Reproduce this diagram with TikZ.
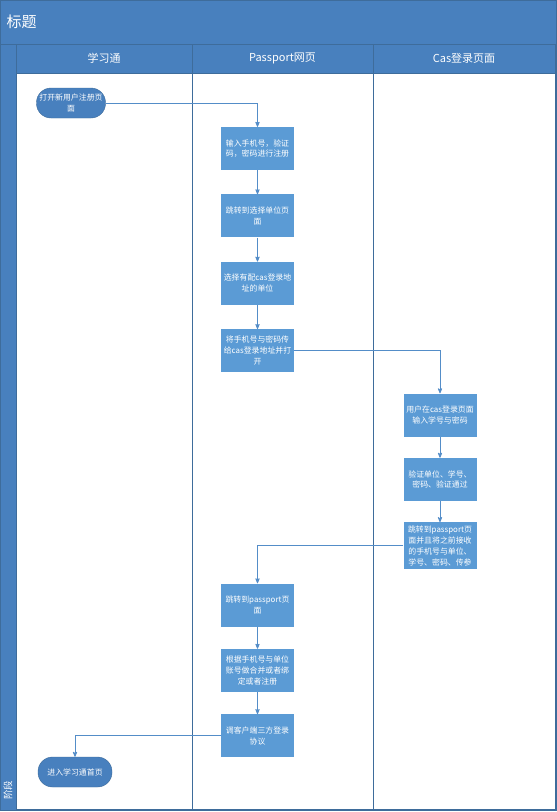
\documentclass[tikz,border=0pt]{standalone}
\usepackage{fontspec}
\setmainfont{Noto Sans CJK SC}
\usetikzlibrary{positioning, arrows}

\definecolor{banda}{RGB}{72,128,190}
\definecolor{caja}{RGB}{91,155,213}
\definecolor{borde}{RGB}{62,108,155}
\definecolor{flecha}{RGB}{84,141,200}

\begin{document}
\begin{tikzpicture}[x=1pt, y=-1pt, node distance=24pt,
                  paso/.style={rectangle, fill=caja, text=white, minimum width=73pt,
                  minimum height=43pt, inner sep=1pt, align=center,
                  font=\fontsize{7.9}{10.8}\selectfont},
                  extremo/.style={rectangle, rounded corners=14.5pt, fill=banda,
                  draw=borde, text=white, minimum height=30pt, inner sep=2pt,
                  align=center, font=\fontsize{7.9}{10.8}\selectfont},
                  carril/.style={rectangle, fill=banda, draw=borde, line width=1pt,
                  text=white, minimum height=29pt, font=\fontsize{11}{12}\selectfont},
                  flujo/.style={->, >=stealth', draw=flecha, line width=0.8pt}]

                  \useasboundingbox (0,0) rectangle (557,812);

                  % Marco, titulo y carriles.
                  \fill[banda] (0,0) rectangle (556,810);
                  \draw[borde, line width=1pt] (0,0) rectangle (556,810);
                  \draw[borde, line width=1pt, fill=white] (16,73) rectangle (192,809);
                  \draw[borde, line width=1pt, fill=white] (192,73) rectangle (373,809);
                  \draw[borde, line width=1pt, fill=white] (373,73) rectangle (555,809);
                  \draw[borde, line width=1pt] (0,44) -- (556,44);
                  \node[anchor=west, text=white, font=\fontsize{15}{17}\selectfont]
                  (titulo) at (3,22) {标题};
                  \node[carril, minimum width=176pt] (c1) at (104,58.5) {学习通};
                  \node[carril, minimum width=181pt] (c2) at (282.5,58.5) {Passport网页};
                  \node[carril, minimum width=182pt] (c3) at (464,58.5) {Cas登录页面};
                  \node[rotate=90, text=white, font=\fontsize{9.5}{10}\selectfont]
                  (fase) at (8,790) {阶段};

                  % Pasos del flujo.
                  \node[extremo, minimum width=69pt] (inicio) at (71,103)
                  {打开新用户注册页\\面};
                  \node[paso] (p1) at (257.5,148.5) {输入手机号，验证\\码，密码进行注册};
                  \node[paso, below=of p1] (p2) {跳转到选择单位页\\面};
                  \node[paso, below=of p2] (p3) {选择有配cas登录地\\址的单位};
                  \node[paso, below=of p3] (p4) {将手机号与密码传\\给cas登录地址并打\\开};
                  \node[paso] (p5) at (440,415) {用户在cas登录页面\\输入学号与密码};
                  \node[paso, below=21pt of p5] (p6) {验证单位、学号、\\密码、验证通过};
                  \node[paso, below=21pt of p6, minimum height=47pt] (p7)
                  {跳转到passport页\\面并且将之前接收\\的手机号与单位、\\学号、密码、传参};
                  \node[paso] (p8) at (257.5,605) {跳转到passport页\\面};
                  \node[paso, below=22pt of p8] (p9) {根据手机号与单位\\账号做合并或者绑\\定或者注册};
                  \node[paso, below=22pt of p9] (p10) {调客户端三方登录\\协议};
                  \node[extremo, minimum width=74pt] (fin) at (75,772) {进入学习通首页};

                  % Conexiones.
                  \draw[flujo] (inicio) -| (p1);
                  \draw[flujo] (p1) -- (p2);
                  \draw[flujo] (p2) -- (p3);
                  \draw[flujo] (p3) -- (p4);
                  \draw[flujo] (p4) -| (p5);
                  \draw[flujo] (p5) -- (p6);
                  \draw[flujo] (p6) -- (p7);
                  \draw[flujo] (p7) -| (p8);
                  \draw[flujo] (p8) -- (p9);
                  \draw[flujo] (p9) -- (p10);
                  \draw[flujo] (p10) -| (fin);

\end{tikzpicture}
\end{document}
